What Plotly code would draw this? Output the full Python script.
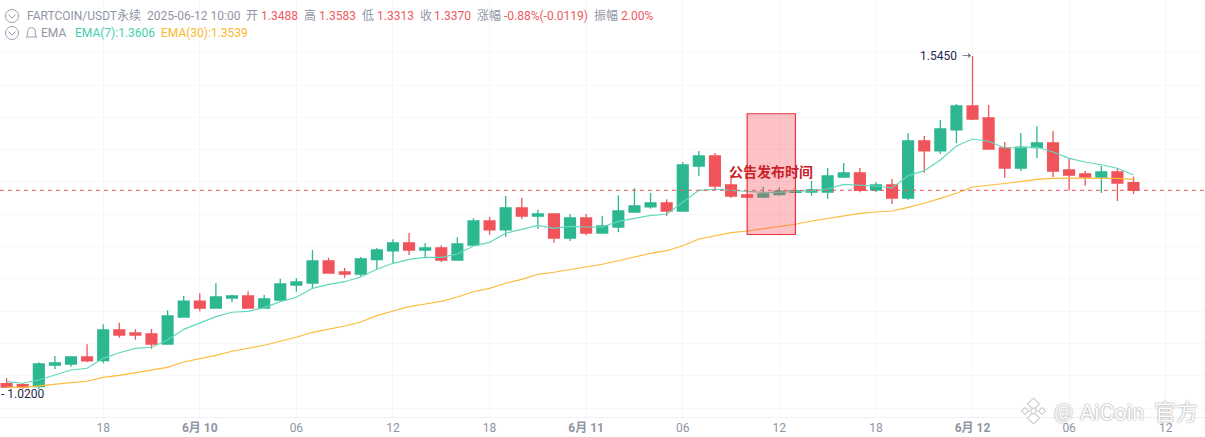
import pandas as pd
import plotly.graph_objects as go

START = "2025-06-09 12:00"
opens = [1.0376,1.0361,1.0330,1.0666,1.0681,1.0790,1.0732,1.1208,1.1161,1.1146,1.0991,1.1409,1.1656,1.1548,1.1703,1.1734,1.1548,1.1672,1.1904,1.1935,
         1.2276,1.2105,1.2074,1.2296,1.2431,1.2554,1.2446,1.2477,1.2291,1.2523,1.2895,1.2756,1.3096,1.2972,1.3003,1.2632,1.2941,1.2709,1.2802,1.3034,
         1.3112,1.3174,1.3050,1.3746,1.3901,1.3452,1.3297,1.3266,1.3302,1.3339,1.3344,1.3344,1.3576,1.3638,1.3375,1.3452,1.3251,1.4133,1.3979,1.4304,
         1.4675,1.4489,1.4025,1.3715,1.4030,1.4102,1.3684,1.3623,1.3576,1.3653,1.3488]
highs = [1.0460,1.0387,1.0708,1.0805,1.0795,1.0986,1.1296,1.1320,1.1218,1.1223,1.1513,1.1734,1.1776,1.1931,1.1754,1.1807,1.1749,1.2002,1.2008,1.2446,
         1.2327,1.2167,1.2338,1.2477,1.2612,1.2709,1.2554,1.2519,1.2643,1.2937,1.2961,1.3282,1.3251,1.3070,1.3014,1.3003,1.3003,1.2972,1.3293,1.3401,
         1.3328,1.3231,1.3808,1.3979,1.3948,1.3607,1.3297,1.3426,1.3417,1.3406,1.3519,1.3715,1.3793,1.3715,1.3499,1.3545,1.4253,1.4211,1.4458,1.4706,
         1.5450,1.4691,1.4118,1.4257,1.4361,1.4288,1.3865,1.3669,1.3746,1.3715,1.3583]
lows = [1.0310,1.0294,1.0294,1.0599,1.0639,1.0712,1.0692,1.1088,1.1057,1.0918,1.0991,1.1409,1.1497,1.1537,1.1636,1.1548,1.1548,1.1672,1.1800,1.1847,
        1.2085,1.2017,1.2033,1.2147,1.2240,1.2369,1.2317,1.2260,1.2291,1.2508,1.2683,1.2652,1.2926,1.2771,1.2559,1.2585,1.2674,1.2709,1.2720,1.3023,
        1.3085,1.2972,1.3050,1.3587,1.3375,1.3251,1.3266,1.3266,1.3287,1.3328,1.3282,1.3240,1.3576,1.3339,1.3344,1.3158,1.3220,1.3643,1.3932,1.4102,
        1.4458,1.4009,1.3565,1.3669,1.3870,1.3576,1.3370,1.3441,1.3328,1.3204,1.3313]
closes = [1.0325,1.0325,1.0681,1.0697,1.0790,1.0728,1.1208,1.1130,1.1130,1.0991,1.1424,1.1656,1.1548,1.1718,1.1734,1.1548,1.1687,1.1920,1.1951,1.2276,
          1.2090,1.2074,1.2307,1.2446,1.2554,1.2446,1.2477,1.2291,1.2539,1.2895,1.2756,1.3096,1.2972,1.3003,1.2632,1.2941,1.2709,1.2818,1.3050,1.3127,
          1.3174,1.3050,1.3762,1.3901,1.3437,1.3282,1.3266,1.3313,1.3355,1.3364,1.3375,1.3592,1.3638,1.3370,1.3452,1.3251,1.4133,1.3979,1.4319,1.4675,
          1.4474,1.4009,1.3715,1.4040,1.4102,1.3669,1.3607,1.3576,1.3653,1.3483,1.3370]
ema7 = [1.0407,1.0383,1.0434,1.0511,1.0588,1.0615,1.0769,1.0856,1.0924,1.0940,1.1053,1.1218,1.1311,1.1414,1.1482,1.1497,1.1553,1.1646,1.1714,1.1853,
        1.1915,1.1955,1.2028,1.2147,1.2240,1.2302,1.2333,1.2333,1.2384,1.2508,1.2565,1.2705,1.2766,1.2828,1.2782,1.2813,1.2802,1.2802,1.2890,1.2937,
        1.2983,1.2999,1.3178,1.3370,1.3386,1.3370,1.3344,1.3339,1.3339,1.3355,1.3359,1.3390,1.3463,1.3448,1.3437,1.3406,1.3596,1.3674,1.3839,1.4056,
        1.4164,1.4129,1.4025,1.4030,1.4040,1.3963,1.3865,1.3808,1.3766,1.3711,1.3606]
ema30 = [1.0320,1.0320,1.0341,1.0361,1.0392,1.0414,1.0475,1.0506,1.0547,1.0578,1.0630,1.0712,1.0759,1.0816,1.0878,1.0924,1.0971,1.1033,1.1095,1.1172,
         1.1218,1.1269,1.1331,1.1429,1.1502,1.1568,1.1610,1.1652,1.1718,1.1800,1.1853,1.1931,1.1992,1.2070,1.2101,1.2141,1.2187,1.2225,1.2280,1.2342,
         1.2395,1.2435,1.2512,1.2616,1.2667,1.2714,1.2740,1.2776,1.2807,1.2844,1.2895,1.2931,1.2977,1.3014,1.3034,1.3050,1.3107,1.3169,1.3246,1.3324,
         1.3421,1.3448,1.3468,1.3503,1.3540,1.3556,1.3560,1.3560,1.3560,1.3556,1.3539]

tick_vals = ["2025-06-09 18:00","2025-06-10 00:00","2025-06-10 06:00","2025-06-10 12:00","2025-06-10 18:00","2025-06-11 00:00",
             "2025-06-11 06:00","2025-06-11 12:00","2025-06-11 18:00","2025-06-12 00:00","2025-06-12 06:00","2025-06-12 12:00"]
tick_text = ["18","<b>6月 10</b>","06","12","18","<b>6月 11</b>","06","12","18","<b>6月 12</b>","06","12"]
price_ticks = [1.00,1.05,1.10,1.15,1.20,1.25,1.30,1.35,1.40,1.45,1.50,1.55]

times = pd.date_range(START, periods=len(opens), freq="h")
W, H, BOTTOM = 1205, 437, 417
GREEN, RED, EMA7C, EMA30C = "#2db791", "#f0545b", "#62d8bd", "#fdbb3a"
GREY = "#8f96a3"
FONT = "Roboto, 'Noto Sans CJK SC', sans-serif"

fig = go.Figure()
fig.add_trace(go.Candlestick(
    x=times, open=opens, high=highs, low=lows, close=closes,
    increasing=dict(line=dict(color=GREEN, width=1.3), fillcolor=GREEN),
    decreasing=dict(line=dict(color=RED, width=1.3), fillcolor=RED),
    whiskerwidth=0, showlegend=False))
fig.add_trace(go.Scatter(x=times, y=ema7, mode="lines", line=dict(color=EMA7C, width=1.2), showlegend=False))
fig.add_trace(go.Scatter(x=times, y=ema30, mode="lines", line=dict(color=EMA30C, width=1.2), showlegend=False))

def px(x): return x / W
def py(y): return 1 - y / BOTTOM

ann = []
def label(x, y, text, color=GREY, size=12, **kw):
    ann.append(dict(xref="paper", yref="paper", x=px(x - 1.5), y=py(y), text=text, showarrow=False,
                    xanchor="left", yanchor="middle", font=dict(family=FONT, size=size, color=color, **kw)))

R = "#ee5a61"
for x, t, c in [(26,"FARTCOIN/USDT永续",GREY),(146,"2025-06-12 10:00",GREY),(245,"开",GREY),(260,"1.3488",R),
                (303,"高",GREY),(318,"1.3583",R),(361,"低",GREY),(376,"1.3313",R),(419,"收",GREY),(433,"1.3370",R),
                (476,"涨幅",GREY),(503,"-0.88%(-0.0119)",R),(593,"振幅",GREY),(620,"2.00%",R)]:
    label(x, 16, t, c)
label(40, 33, "EMA")
label(74, 33, "EMA(7):1.3606", "#3fd0ae")
label(160, 33, "EMA(30):1.3539", "#fdb72d")
WM = "0 0 2px #777777"
label(1053, 412, "@", "#ffffff", 21, shadow=WM)
label(1079, 412, "AiCoin", "#ffffff", 22, shadow=WM)
label(1153, 412, "官方", "#ffffff", 22, shadow=WM)

ann.append(dict(x=times[60], y=1.5450, xref="x", yref="y", text="1.5450", showarrow=False, xanchor="right",
                yanchor="middle", xshift=-14, font=dict(family=FONT, size=12, color="#1f2a4d")))
ann.append(dict(x=times[60], y=1.5450, xref="x", yref="y", text="→", showarrow=False, xanchor="center",
                yanchor="middle", xshift=-6, font=dict(family=FONT, size=9, color="#1f2a4d")))
ann.append(dict(xref="paper", yref="y", x=0, y=1.0200, text="- 1.0200", showarrow=False, xanchor="left",
                yanchor="middle", xshift=-1.5, yshift=1.5, font=dict(family=FONT, size=12, color="#1f2a4d")))
ann.append(dict(x=times[47] + pd.Timedelta(minutes=30), y=1.3653, xref="x", yref="y", text="<b>公告发布时间</b>",
                showarrow=False, font=dict(family=FONT, size=14, color="#c9232a")))

shapes = [
    dict(type="rect", xref="x", yref="y", x0=times[46], x1=times[49], y0=1.2686, y1=1.4555,
         fillcolor="rgba(250,70,80,0.33)", line=dict(color="#e8343c", width=1.2)),
    dict(type="line", xref="paper", yref="y", x0=0, x1=1, y0=1.3370, y1=1.3370,
         line=dict(color="#f0545b", width=1, dash="4px,4px")),
]
for cy in (16, 33):
    shapes.append(dict(type="circle", xref="paper", yref="paper", x0=px(5.5), x1=px(18.5), y0=py(cy+6.5), y1=py(cy-6.5),
                       line=dict(color="#9aa0ab", width=1)))
    shapes.append(dict(type="path", xref="paper", yref="paper",
                       path=f"M {px(8.5)} {py(cy-1.5)} L {px(12)} {py(cy+2)} L {px(15.5)} {py(cy-1.5)}",
                       line=dict(color="#9aa0ab", width=1)))
# bell icon
shapes.append(dict(type="path", xref="paper", yref="paper",
                   path=f"M {px(26)} {py(37)} L {px(37)} {py(37)} L {px(35.3)} {py(35)} L {px(35.3)} {py(31)} "
                        f"Q {px(35)} {py(27.5)} {px(31.5)} {py(27.5)} Q {px(28)} {py(27.5)} {px(27.7)} {py(31)} L {px(27.7)} {py(35)} Z",
                   line=dict(color="#9aa0ab", width=1)))
# watermark logo
for cx, cy, r in [(1033.5,404,6),(1033.5,418,6),(1025,411,3.5),(1042,411,3.5),(1033.5,411,3.5)]:
    shapes.append(dict(type="path", xref="paper", yref="paper",
                       path=f"M {px(cx-r)} {py(cy)} L {px(cx)} {py(cy-r)} L {px(cx+r)} {py(cy)} L {px(cx)} {py(cy+r)} Z",
                       fillcolor="#ffffff", line=dict(color="#d0d0d0", width=1.2)))

fig.update_layout(
    width=W, height=H, autosize=False, margin=dict(l=0, r=0, t=0, b=H-BOTTOM),
    paper_bgcolor="white", plot_bgcolor="white", showlegend=False, annotations=ann, shapes=shapes,
    boxgap=0.18, boxgroupgap=0.18,
    font=dict(family=FONT, size=12, color=GREY),
    xaxis=dict(type="date", range=["2025-06-09 11:35:24", "2025-06-12 14:26:24"], rangeslider=dict(visible=False),
               tickmode="array", tickvals=tick_vals, ticktext=tick_text, showgrid=True, gridcolor="#f6f7f9", gridwidth=1,
               zeroline=False, showline=True, linecolor="#eef0f3", linewidth=1, ticks="",
               tickfont=dict(family=FONT, size=12, color=GREY)),
    yaxis=dict(range=[0.98607, 1.6316], tickmode="array", tickvals=price_ticks, showticklabels=False, showgrid=True,
               gridcolor="#f6f7f9", gridwidth=1, zeroline=False, showline=False, ticks=""),
)
fig.write_html("out.html", post_script="document.body.style.margin='0';", config=dict(displayModeBar=False))
